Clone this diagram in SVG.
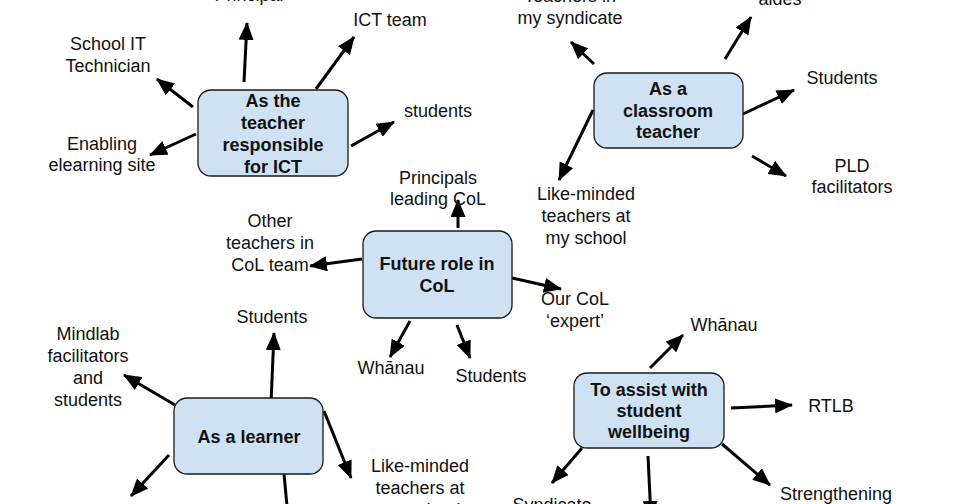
<svg xmlns="http://www.w3.org/2000/svg" width="960" height="504" viewBox="0 0 960 504">
<defs>
<marker id="ah" markerWidth="18" markerHeight="15" refX="17" refY="7.5" orient="auto" markerUnits="userSpaceOnUse"><path d="M0,0 L18,7.5 L0,15 z" fill="#000"/></marker>
<style>
.node rect{fill:#cfe2f3;stroke:#1a1a1a;stroke-width:1.3}
.node text{font-family:"Liberation Sans",Arial,sans-serif;font-size:18px;font-weight:bold;fill:#111;text-anchor:middle}
.lbl{font-family:"Liberation Sans",Arial,sans-serif;font-size:18px;fill:#111;text-anchor:middle}
#connectors line{stroke:#000;stroke-width:3;marker-end:url(#ah)}
#connectors line.plain{marker-end:none}
</style>
</defs>
<rect width="960" height="504" fill="#fff"/>

<g id="connectors">
<line x1="244" y1="82" x2="247" y2="23"/>
<line x1="316" y1="89" x2="354" y2="37"/>
<line x1="193" y1="107" x2="157" y2="79"/>
<line x1="196" y1="134" x2="150" y2="155"/>
<line x1="351" y1="146" x2="394" y2="122"/>
<line x1="594" y1="64" x2="571" y2="42"/>
<line x1="725" y1="59" x2="751" y2="17"/>
<line x1="743" y1="114" x2="794" y2="90"/>
<line x1="752" y1="156" x2="786" y2="176"/>
<line x1="593" y1="110" x2="559" y2="180"/>
<line x1="458" y1="228" x2="458" y2="200"/>
<line x1="362" y1="259" x2="310" y2="266"/>
<line x1="512" y1="278" x2="561" y2="289"/>
<line x1="410" y1="321" x2="390" y2="357"/>
<line x1="457" y1="325" x2="470" y2="358"/>
<line x1="271" y1="403" x2="274" y2="333"/>
<line x1="175" y1="405" x2="124" y2="375"/>
<line x1="169" y1="455" x2="131" y2="496"/>
<line class="plain" x1="284" y1="474" x2="287" y2="506"/>
<line x1="324" y1="411" x2="351" y2="478"/>
<line x1="650" y1="368" x2="683" y2="335"/>
<line x1="731" y1="408" x2="792" y2="405"/>
<line x1="582" y1="448" x2="552" y2="483"/>
<line x1="648" y1="456" x2="651" y2="518"/>
<line x1="722" y1="444" x2="770" y2="485"/>
</g>

<g id="node-ict" class="node">
<rect x="198" y="90" width="150" height="86" rx="13"/>
<text x="273" y="107">As the</text>
<text x="273" y="129">teacher</text>
<text x="273" y="151">responsible</text>
<text x="273" y="173">for ICT</text>
</g>
<g id="node-classroom" class="node">
<rect x="594" y="73" width="149" height="75" rx="13"/>
<text x="668" y="95">As a</text>
<text x="668" y="117">classroom</text>
<text x="668" y="138">teacher</text>
</g>
<g id="node-col" class="node">
<rect x="363" y="231" width="149" height="87" rx="13"/>
<text x="437" y="270">Future role in</text>
<text x="437" y="292">CoL</text>
</g>
<g id="node-learner" class="node">
<rect x="174" y="398" width="149" height="76" rx="13"/>
<text x="249" y="443">As a learner</text>
</g>
<g id="node-wellbeing" class="node">
<rect x="574" y="373" width="150" height="75" rx="13"/>
<text x="649" y="396">To assist with</text>
<text x="649" y="417">student</text>
<text x="649" y="438">wellbeing</text>
</g>

<g id="labels">
<text class="lbl" x="249" y="1">Principal</text>
<text class="lbl" x="390" y="26">ICT team</text>
<text class="lbl" x="108" y="50">School IT</text>
<text class="lbl" x="108" y="72">Technician</text>
<text class="lbl" x="102" y="150">Enabling</text>
<text class="lbl" x="102" y="171">elearning site</text>
<text class="lbl" x="438" y="117">students</text>
<text class="lbl" x="570" y="2">Teachers in</text>
<text class="lbl" x="570" y="24">my syndicate</text>
<text class="lbl" x="780" y="5">aides</text>
<text class="lbl" x="842" y="84">Students</text>
<text class="lbl" x="852" y="172">PLD</text>
<text class="lbl" x="852" y="193">facilitators</text>
<text class="lbl" x="586" y="200">Like-minded</text>
<text class="lbl" x="586" y="222">teachers at</text>
<text class="lbl" x="586" y="244">my school</text>
<text class="lbl" x="438" y="184">Principals</text>
<text class="lbl" x="438" y="205">leading CoL</text>
<text class="lbl" x="270" y="227">Other</text>
<text class="lbl" x="270" y="249">teachers in</text>
<text class="lbl" x="270" y="271">CoL team</text>
<text class="lbl" x="575" y="305">Our CoL</text>
<text class="lbl" x="575" y="327">‘expert’</text>
<text class="lbl" x="391" y="374">Whānau</text>
<text class="lbl" x="491" y="382">Students</text>
<text class="lbl" x="272" y="323">Students</text>
<text class="lbl" x="88" y="340">Mindlab</text>
<text class="lbl" x="88" y="362">facilitators</text>
<text class="lbl" x="88" y="384">and</text>
<text class="lbl" x="88" y="406">students</text>
<text class="lbl" x="420" y="472">Like-minded</text>
<text class="lbl" x="420" y="494">teachers at</text>
<text class="lbl" x="420" y="516">my school</text>
<text class="lbl" x="724" y="331">Whānau</text>
<text class="lbl" x="831" y="412">RTLB</text>
<text class="lbl" x="552" y="511">Syndicate</text>
<text class="lbl" x="836" y="500">Strengthening</text>
</g>
</svg>
